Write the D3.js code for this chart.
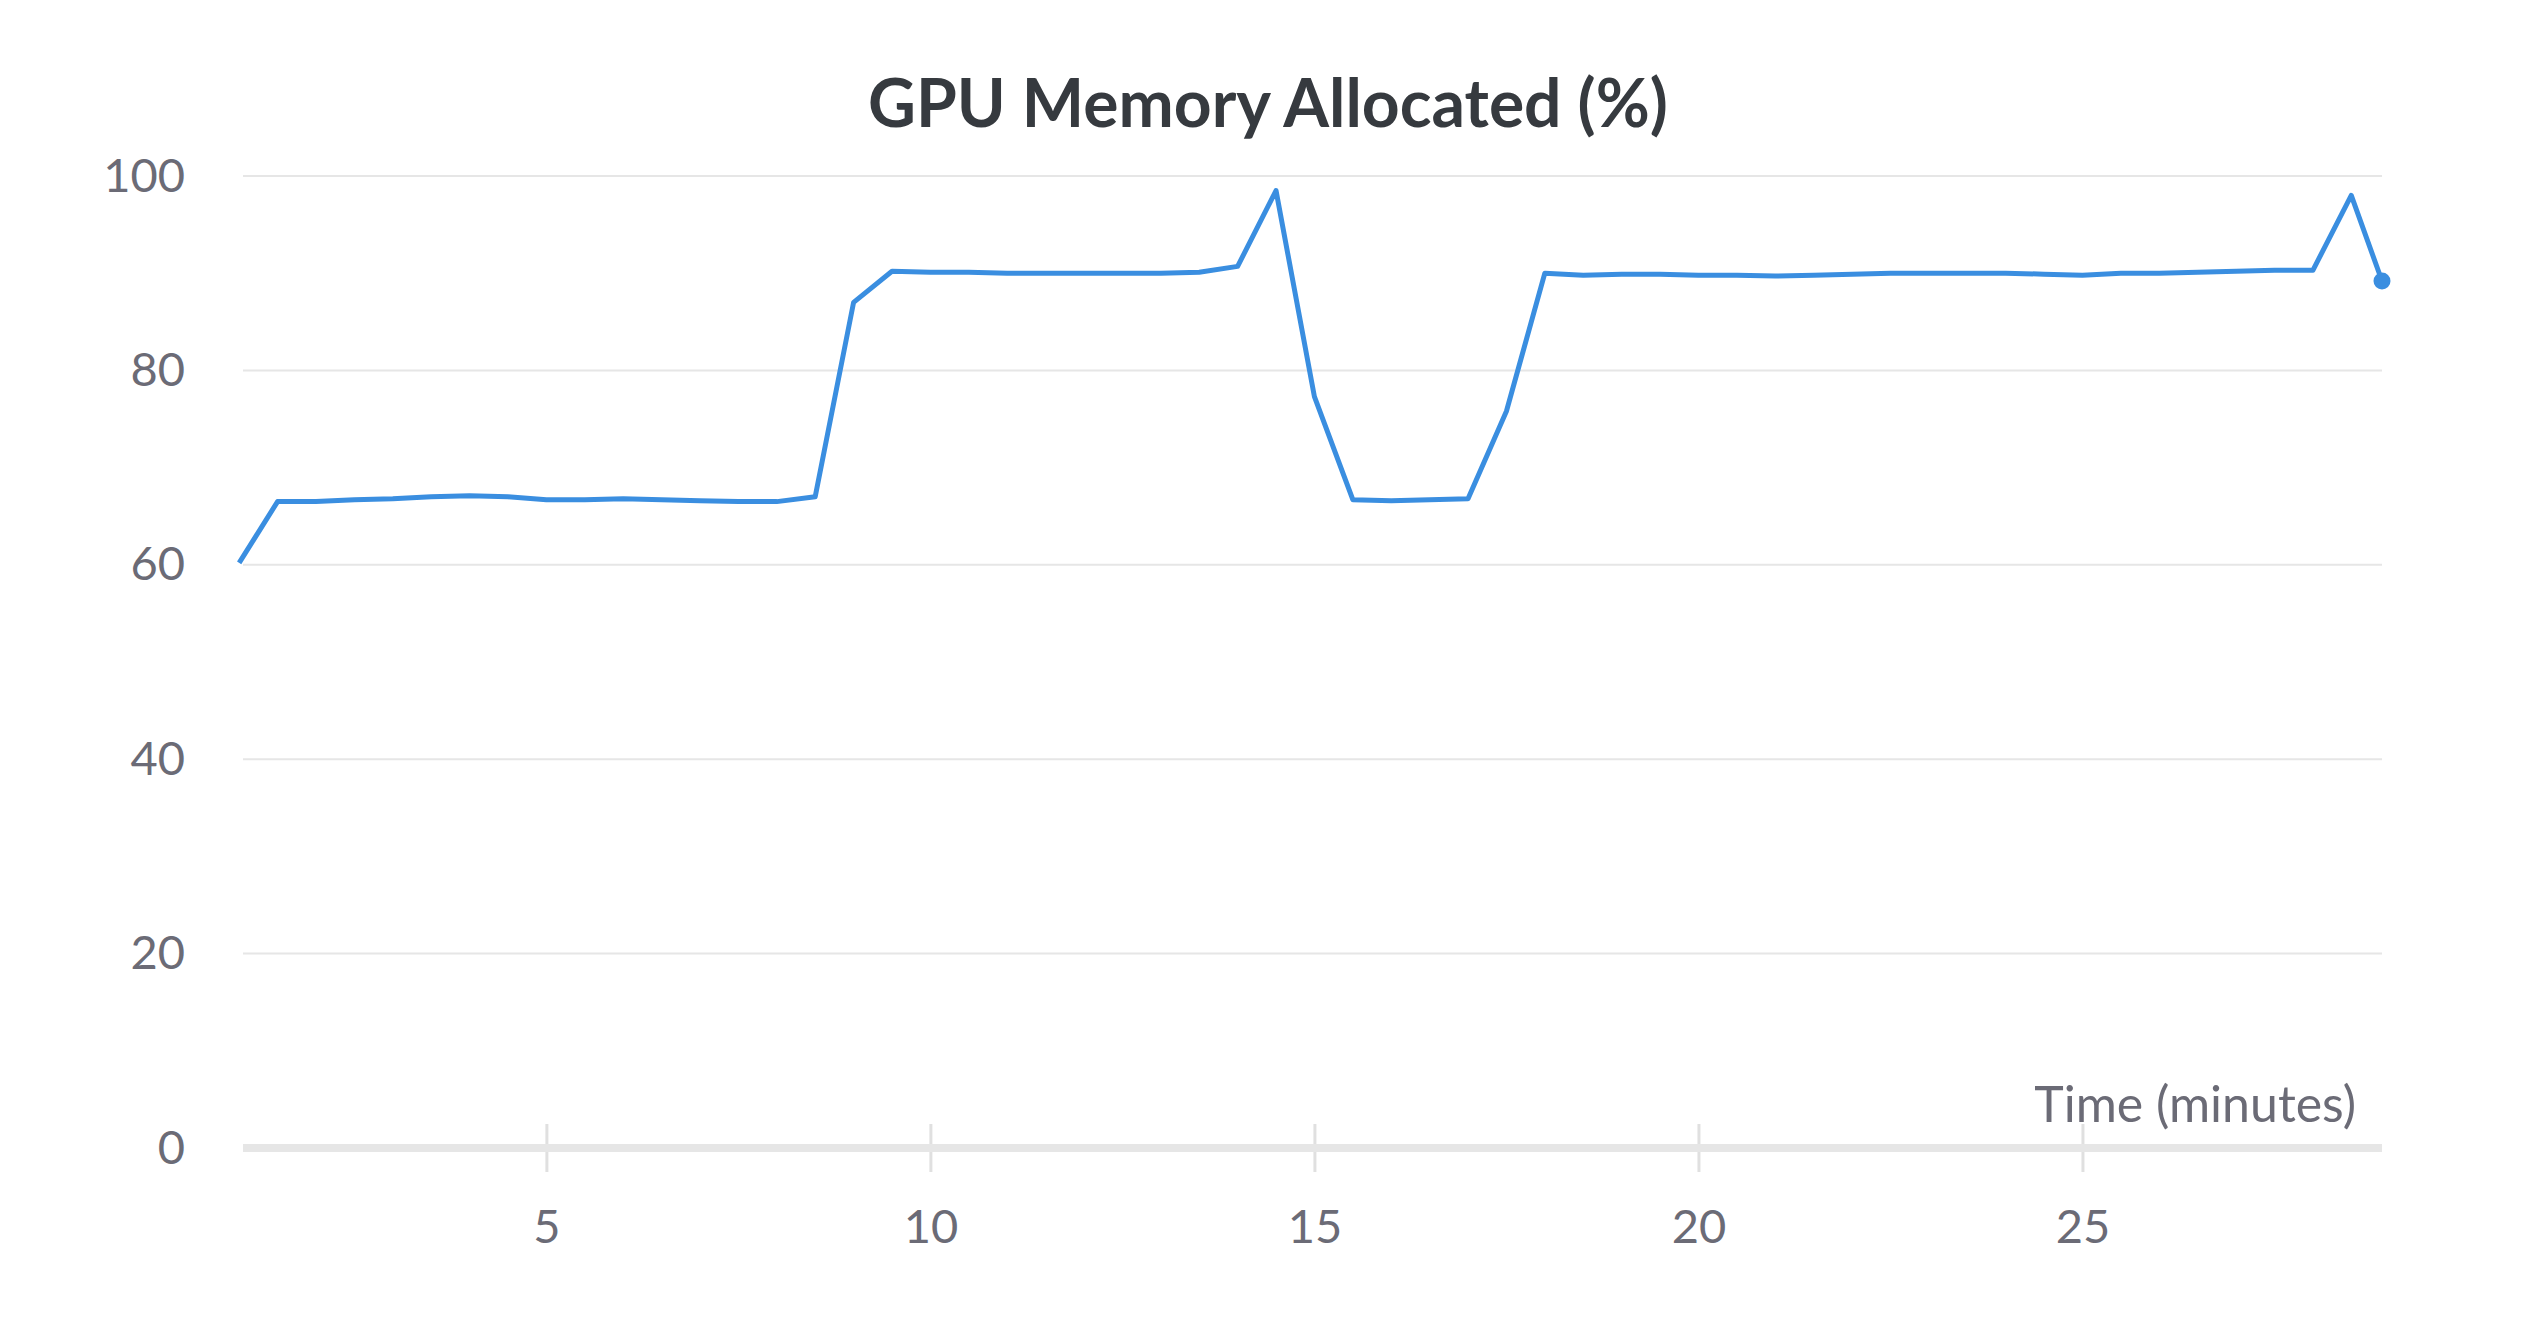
<!DOCTYPE html>
<html>
<head>
<meta charset="utf-8">
<script src="https://cdn.jsdelivr.net/npm/d3@7"></script>
<style>
  body { margin: 0; background: #fff; }
  text { font-family: Lato, "Open Sans", sans-serif; }
</style>
</head>
<body>
<svg id="chart" width="2528" height="1328"></svg>
<script>
var width = 2528;
var height = 1328;
var margin = {top: 176, bottom: 180, left: 243, right: 146};

// data (time in minutes, memory in %)
var times = [1, 1.5, 2, 2.5, 3, 3.5, 4, 4.5, 5, 5.5, 6, 6.5, 7, 7.5, 8, 8.5, 9, 9.5, 10, 10.5,
  11, 11.5, 12, 12.5, 13, 13.5, 14, 14.5, 15, 15.5, 16, 16.5, 17, 17.5, 18, 18.5, 19, 19.5, 20,
  20.5, 21, 21.5, 22, 22.5, 23, 23.5, 24, 24.5, 25, 25.5, 26, 26.5, 27, 27.5, 28, 28.5, 28.9];
var memory = [60.2, 66.5, 66.5, 66.7, 66.8, 67.0, 67.1, 67.0, 66.7, 66.7, 66.8, 66.7, 66.6, 66.5, 66.5,
  67.0, 87.0, 90.2, 90.1, 90.1, 90.0, 90.0, 90.0, 90.0, 90.0, 90.1, 90.7, 98.5, 77.3, 66.7, 66.6,
  66.7, 66.8, 75.8, 90.0, 89.8, 89.9, 89.9, 89.8, 89.8, 89.7, 89.8, 89.9, 90.0, 90.0, 90.0, 90.0,
  89.9, 89.8, 90.0, 90.0, 90.1, 90.2, 90.3, 90.3, 98.0, 89.2];
var yTicks = [0, 20, 40, 60, 80, 100];
var xTicks = [5, 10, 15, 20, 25];

var data = times.map(function (t, i) { return [t, memory[i]]; });

var svg = d3.select('#chart');

var xScale = d3.scaleLinear()
    .domain([1.05, 28.9])
    .range([margin.left, width - margin.right]);
var yScale = d3.scaleLinear()
    .domain([0, 100])
    .range([height - margin.bottom, margin.top]);

// grid lines
svg.append('g')
    .selectAll('line')
    .data(yTicks.slice(1))
    .enter().append('line')
    .attr('x1', margin.left)
    .attr('x2', width - margin.right)
    .attr('y1', d => yScale(d))
    .attr('y2', d => yScale(d))
    .attr('stroke', '#e6e6e6')
    .attr('stroke-width', 2);

// y axis
var yAxis = d3.axisLeft(yScale).tickValues(yTicks).tickSize(0).tickPadding(58);
var gy = svg.append('g')
    .attr('transform', 'translate(' + [margin.left, 0] + ')')
    .call(yAxis);
gy.select('.domain').remove();
gy.selectAll('text')
    .attr('font-size', 47)
    .attr('fill', '#6b6b76');

// x axis
var xAxis = d3.axisBottom(xScale).tickValues(xTicks).tickSize(24).tickPadding(38);
var gx = svg.append('g')
    .attr('transform', 'translate(' + [0, height - margin.bottom] + ')')
    .call(xAxis);
gx.select('.domain').remove();
gx.selectAll('.tick line')
    .attr('y1', -24)
    .attr('stroke', '#e0e0e0')
    .attr('stroke-width', 3);
gx.selectAll('text')
    .attr('font-size', 47)
    .attr('fill', '#6b6b76');

svg.append('line')
    .attr('x1', margin.left)
    .attr('x2', width - margin.right)
    .attr('y1', yScale(0))
    .attr('y2', yScale(0))
    .attr('stroke', '#e6e6e6')
    .attr('stroke-width', 8);

svg.append('text')
    .attr('x', width - margin.right - 26)
    .attr('y', 1122)
    .attr('text-anchor', 'end')
    .attr('font-size', 50)
    .attr('fill', '#6b6b76')
    .text('Time (minutes)');

// title
svg.append('text')
    .attr('x', 1268)
    .attr('y', 127)
    .attr('text-anchor', 'middle')
    .attr('font-size', 66)
    .attr('font-weight', 'bold')
    .attr('fill', '#363a3f')
    .text('GPU Memory Allocated (%)');

// line
var line = d3.line()
    .x(d => xScale(d[0]))
    .y(d => yScale(d[1]));
svg.append('path')
    .datum(data)
    .attr('d', line)
    .attr('fill', 'none')
    .attr('stroke', '#3a8ee0')
    .attr('stroke-width', 5)
    .attr('stroke-linejoin', 'round');

var last = data[data.length - 1];
svg.append('circle')
    .attr('cx', xScale(last[0]))
    .attr('cy', yScale(last[1]))
    .attr('r', 8.5)
    .attr('fill', '#3a8ee0');
</script>
</body>
</html>
